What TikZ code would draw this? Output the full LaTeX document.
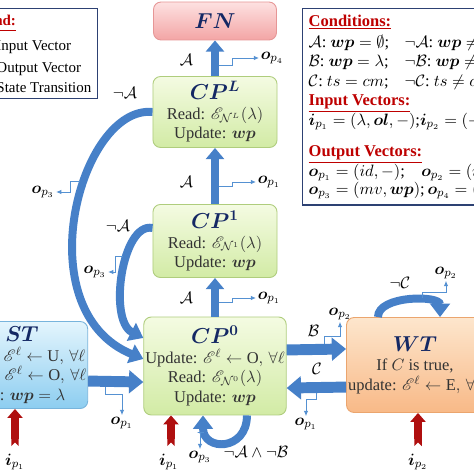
\documentclass[tikz,border=0pt]{standalone}
\usepackage{fontspec}
\setmainfont{Liberation Serif}
\usepackage{amsmath,amssymb,bm}
\usepackage{mathrsfs}
\usetikzlibrary{arrows.meta}

\definecolor{arrblue}{RGB}{70,128,200}
\definecolor{outblue}{RGB}{85,145,210}
\definecolor{navy}{RGB}{20,40,100}
\definecolor{hdred}{RGB}{190,0,0}
\definecolor{inred}{RGB}{175,15,15}
\definecolor{framec}{RGB}{45,65,115}
\definecolor{cptop}{RGB}{244,251,226}
\definecolor{cpbot}{RGB}{210,235,165}
\definecolor{cpedge}{RGB}{175,205,125}
\definecolor{fntop}{RGB}{253,225,225}
\definecolor{fnbot}{RGB}{243,165,165}
\definecolor{fnedge}{RGB}{230,150,150}
\definecolor{sttop}{RGB}{228,245,253}
\definecolor{stbot}{RGB}{140,205,240}
\definecolor{stedge}{RGB}{120,180,220}
\definecolor{wttop}{RGB}{253,230,205}
\definecolor{wtbot}{RGB}{248,185,135}
\definecolor{wtedge}{RGB}{235,165,110}

\newcommand{\statename}[1]{{\Large\color{navy}$\boldsymbol{#1}$}}
\newcommand{\outv}[1]{$\boldsymbol{o}_{p_{#1}}$}
\newcommand{\inv}[1]{$\boldsymbol{i}_{p_{#1}}$}
\newcommand{\boxhead}[1]{\textcolor{hdred}{\underline{\textbf{#1}}}}
\newcommand{\scE}{\mathscr{E}}

\tikzset{
  statebox/.style={rounded corners=5pt, line width=0.6pt, align=center, inner sep=1pt,
    text=black!80, font=\fontsize{11}{13}\selectfont},
  cpbox/.style={statebox, draw=cpedge, top color=cptop, bottom color=cpbot, minimum width=82.7pt},
  fnbox/.style={statebox, draw=fnedge, top color=fntop, bottom color=fnbot, minimum width=82pt, minimum height=25.3pt},
  stbox/.style={statebox, draw=stedge, top color=sttop, bottom color=stbot, minimum width=84pt, minimum height=58pt},
  wtbox/.style={statebox, draw=wtedge, top color=wttop, bottom color=wtbot, minimum width=84pt, minimum height=63.3pt},
  varr/.style={draw=arrblue, line width=5.3pt, -{Triangle[width=12pt,length=7.5pt]}},
  harr/.style={draw=arrblue, line width=7.3pt, -{Triangle[width=15pt,length=9.5pt]}},
  carr/.style={draw=arrblue, line width=5.3pt, -{Triangle[width=13pt,length=9pt]}},
  outarr/.style={draw=outblue, line width=0.6pt, -{Latex[length=3.5pt,width=3pt]}},
  inarr/.style={draw=inred, line width=5pt, {Triangle Cap[reversed]}-{Triangle[width=10pt,length=6pt]}},
  lbl/.style={inner sep=1pt, font=\fontsize{11}{13}\selectfont},
  infobox/.style={draw=framec, line width=0.9pt, fill=white, align=left, inner sep=4pt,
    font=\fontsize{11}{13}\selectfont},
}

\begin{document}
\begin{tikzpicture}[x=0.6667pt, y=-0.6667pt]
  \useasboundingbox (0,0) rectangle (474,474);
  \clip (0,0) rectangle (474,474);
  \fill[white] (0,0) rectangle (474,474);

  % legend and conditions
  \node[infobox, anchor=north east, font=\fontsize{10}{12}\selectfont] (legend) at (98,8)
    {\boxhead{Legend:}\\[5pt]
     \hspace*{22pt}Input Vector\\[2.5pt]
     \hspace*{22pt}Output Vector\\[1.5pt]
     \hspace*{22pt}State Transition};
  \node[infobox, anchor=north west] (cond) at (302,8)
    {\boxhead{Conditions:}\\[1pt]
     \makebox[64pt][l]{$\mathcal{A}$:\ $\boldsymbol{wp}=\emptyset$;}$\neg\mathcal{A}$:\ $\boldsymbol{wp}\neq\emptyset$;\\
     \makebox[64pt][l]{$\mathcal{B}$:\ $\boldsymbol{wp}=\lambda$;}$\neg\mathcal{B}$:\ $\boldsymbol{wp}\neq\lambda$;\\
     \makebox[64pt][l]{$\mathcal{C}$:\ $ts=cm$;}$\neg\mathcal{C}$:\ $ts\neq cm$;\\
     \boxhead{Input Vectors:}\\
     $\boldsymbol{i}_{p_1}=(\lambda,\boldsymbol{ol},-)$;$\boldsymbol{i}_{p_2}=(-,\boldsymbol{ol},\lambda)$;\\[8pt]
     \boxhead{Output Vectors:}\\
     $\boldsymbol{o}_{p_1}=(id,-)$;\quad$\boldsymbol{o}_{p_2}=(id,\boldsymbol{wp})$;\\[-1pt]
     $\boldsymbol{o}_{p_3}=(mv,\boldsymbol{wp})$;\,$\boldsymbol{o}_{p_4}=(id,\lambda)$;};

  % states
  \node[fnbox] (fn) at (215,21) {\statename{FN}};
  \node[cpbox, minimum height=47.3pt] (cpl) at (215,112)
    {\statename{CP^{L}}\\ Read: $\scE_{\mathcal{N}^{L}}(\lambda)$\\ Update: $\boldsymbol{wp}$};
  \node[cpbox, minimum height=48.7pt] (cp1) at (215,241)
    {\statename{CP^{1}}\\ Read: $\scE_{\mathcal{N}^{1}}(\lambda)$\\ Update: $\boldsymbol{wp}$};
  \node[cpbox, minimum height=65.3pt] (cp0) at (215,366)
    {\statename{CP^{0}}\\ Update: $\scE^{\ell}\leftarrow\mathrm{O},\,\forall\ell$\\
     Read: $\scE_{\mathcal{N}^{0}}(\lambda)$\\ Update: $\boldsymbol{wp}$};
  \node[stbox] (st) at (22,365)
    {\statename{ST}\\ Store: $\scE^{\ell}\leftarrow\mathrm{U},\,\forall\ell$\\
     Reset: $\scE^{\ell}\leftarrow\mathrm{O},\,\forall\ell$\\ Set: $\boldsymbol{wp}=\lambda$};
  \node[wtbox] (wt) at (415,365)
    {\statename{WT}\\ If $C$ is true,\\ update: $\scE^{\ell}\leftarrow\mathrm{E},\,\forall\ell$};

  % transitions
  \draw[varr] (cpl) -- node[lbl, pos=0.46, left=11pt] (la3) {$\mathcal{A}$} coordinate[pos=0.3] (t4) (fn);
  \draw[varr] (cp1) -- node[lbl, pos=0.39, left=11pt] (la2) {$\mathcal{A}$} coordinate[pos=0.32] (t3) (cpl);
  \draw[varr] (cp0) -- node[lbl, pos=0.49, left=11pt] (la1) {$\mathcal{A}$} coordinate[pos=0.36] (t2) (cp1);
  \draw[harr] ([yshift=10.7pt]cp0.east) -- node[lbl, pos=0.45, above=4pt] (lb) {$\mathcal{B}$}
    coordinate[pos=0.64] (tb) ([yshift=10.7pt]wt.west);
  \draw[harr] ([yshift=-14.7pt]wt.west) -- node[lbl, pos=0.49, above=4pt] (lc) {$\mathcal{C}$}
    coordinate[pos=0.5] (tc) ([yshift=-14.7pt]cp0.east);
  \draw[harr] ([yshift=-10.7pt]st.east) -- coordinate[pos=0.31] (ts) ([yshift=-10.7pt]cp0.west);
  \draw[carr] (cpl.west) .. controls (80,105) and (25,310) .. coordinate[pos=0.4] (to)
    ([yshift=4.7pt]cp0.west);
  \draw[carr] ([yshift=8.7pt]cp1.west) .. controls (122,222) and (108,320) .. coordinate[pos=0.38] (ti)
    ([yshift=18.7pt]cp0.west);
  \draw[carr] ([xshift=21.3pt]cp0.south) .. controls +(0,36) and +(0,36) .. coordinate[pos=0.8] (tl)
    ([xshift=-8pt]cp0.south);
  \draw[carr] ([xshift=-24.7pt]wt.north) .. controls +(0,-22) and +(0,-22) .. coordinate[pos=0.65] (tw)
    ([xshift=16.7pt]wt.north);

  \node[lbl] (lna) at (125,93) {$\neg\mathcal{A}$};
  \node[lbl] (lnb) at (118,226) {$\neg\mathcal{A}$};
  \node[lbl] (lnab) at (256,452) {$\neg\mathcal{A}\wedge\neg\mathcal{B}$};
  \node[lbl] (lnc) at (400,283) {$\neg\mathcal{C}$};

  % outputs
  \node[lbl, anchor=west] (o4) at (259,58) {\outv{4}};
  \node[lbl, anchor=west] (o1a) at (256,182) {\outv{1}};
  \node[lbl, anchor=west] (o1b) at (256,298) {\outv{1}};
  \node[lbl] (o2a) at (340,314) {\outv{2}};
  \node[lbl] (o1c) at (306,424) {\outv{1}};
  \node[lbl] (o1d) at (122,423) {\outv{1}};
  \node[lbl] (o3a) at (200,457) {\outv{3}};
  \node[lbl] (o2b) at (446,273) {\outv{2}};
  \node[lbl] (o3b) at (43,192) {\outv{3}};
  \node[lbl] (o3c) at (95,272) {\outv{3}};

  \draw[outarr] ([xshift=2.6pt]t4) -- ++(14,0) |- (o4);
  \draw[outarr] ([xshift=2.6pt]t3) -- ++(14,0) |- (o1a);
  \draw[outarr] ([xshift=2.6pt]t2) -- ++(14,0) |- (o1b);
  \draw[outarr] ([yshift=3.6pt]tb) -- ++(0,-7) -| (o2a);
  \draw[outarr] ([yshift=-3.6pt]tc) -- ++(0,6) -| (o1c);
  \draw[outarr] ([yshift=-3.6pt]ts) -- ++(0,8) -| (o1d);
  \draw[outarr] ([xshift=-2.6pt]tl) -- ++(-6,0) -| (o3a);
  \draw[outarr] ([yshift=2.6pt]tw) -- ++(0,-6) -| (o2b);
  \draw[outarr] ([xshift=-2.6pt]to) -- ++(-10,0) |- (o3b);
  \draw[outarr] ([xshift=-2.6pt]ti) -- ++(-7,0) |- (o3c);

  % inputs
  \node[lbl] (i1a) at (15,462) {\inv{1}};
  \node[lbl] (i1b) at (169,462) {\inv{1}};
  \node[lbl] (i2) at (418,462) {\inv{2}};
  \coordinate (ia) at (15,446);
  \coordinate (ib) at (171,446);
  \coordinate (ic) at (418,446);
  \draw[inarr] (ia) -- (ia |- st.south);
  \draw[inarr] (ib) -- (ib |- cp0.south);
  \draw[inarr] (ic) -- (ic |- wt.south);
\end{tikzpicture}
\end{document}
